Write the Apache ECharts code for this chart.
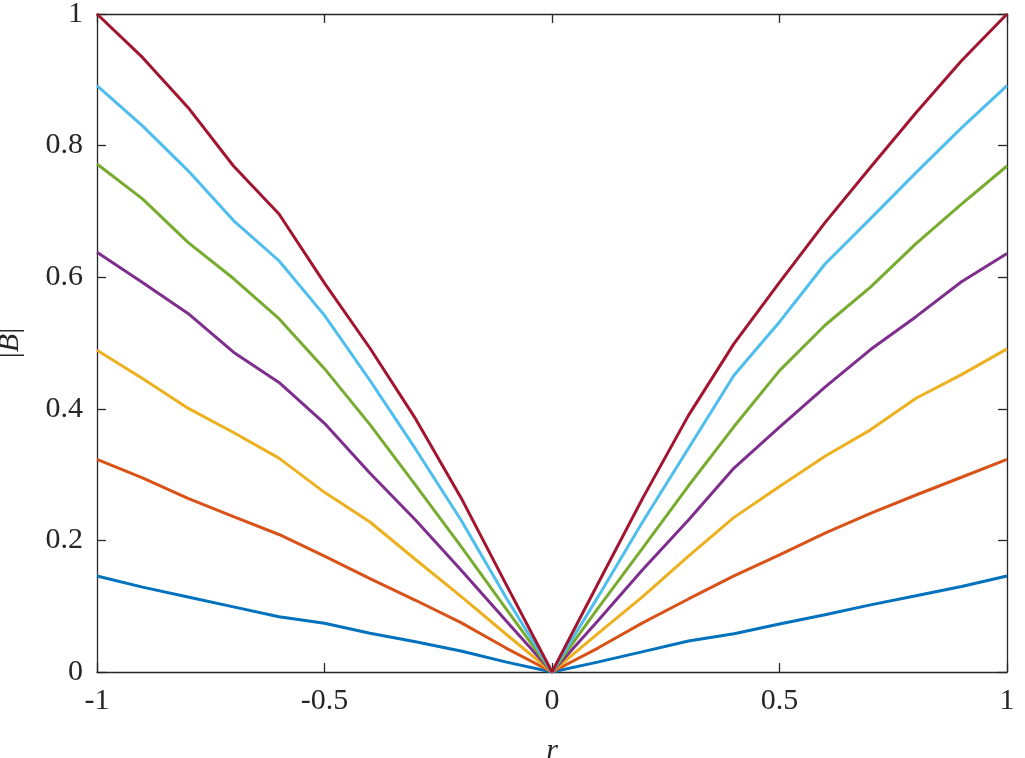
<!DOCTYPE html>
<html>
<head>
<meta charset="utf-8">
<script src="https://cdn.jsdelivr.net/npm/echarts@6/dist/echarts.min.js"></script>
<style>
html,body{margin:0;padding:0;background:#fff;}
#c{width:1025px;height:758px;}
</style>
</head>
<body>
<div id="c"></div>
<script>
const rValues = [-1,-0.9,-0.8,-0.7,-0.6,-0.5,-0.4,-0.3,-0.2,-0.1,0,0.1,0.2,0.3,0.4,0.5,0.6,0.7,0.8,0.9,1];
const xTickLabels = ['-1','-0.5','0','0.5','1'];
const yTickLabels = ['0','0.2','0.4','0.6','0.8','1'];

const blueSeries   = [0.146,0.129,0.114,0.099,0.084,0.074,0.059,0.046,0.032,0.015,0,0.015,0.031,0.047,0.058,0.073,0.087,0.102,0.116,0.130,0.146];
const orangeSeries = [0.323,0.295,0.264,0.236,0.209,0.176,0.142,0.109,0.075,0.036,0,0.036,0.075,0.111,0.146,0.178,0.211,0.241,0.269,0.296,0.323];
const yellowSeries = [0.489,0.446,0.401,0.364,0.325,0.273,0.228,0.171,0.115,0.057,0,0.058,0.115,0.176,0.235,0.282,0.328,0.368,0.416,0.452,0.491];
const purpleSeries = [0.638,0.592,0.545,0.486,0.440,0.378,0.302,0.231,0.155,0.077,0,0.077,0.156,0.231,0.310,0.372,0.433,0.490,0.540,0.593,0.636];
const greenSeries  = [0.772,0.719,0.653,0.598,0.537,0.461,0.376,0.284,0.191,0.095,0,0.096,0.189,0.283,0.373,0.458,0.527,0.585,0.651,0.711,0.769];
const cyanSeries   = [0.891,0.830,0.762,0.686,0.625,0.542,0.443,0.339,0.231,0.112,0,0.113,0.229,0.340,0.451,0.532,0.620,0.689,0.759,0.827,0.891];
const redSeries    = [1.000,0.934,0.858,0.769,0.696,0.591,0.492,0.385,0.265,0.132,0,0.133,0.265,0.390,0.499,0.592,0.683,0.767,0.850,0.929,1.000];

const seriesList = [
  {values: blueSeries,   color: '#0072BD'},
  {values: orangeSeries, color: '#D95319'},
  {values: yellowSeries, color: '#EDB120'},
  {values: purpleSeries, color: '#7E2F8E'},
  {values: greenSeries,  color: '#77AC30'},
  {values: cyanSeries,   color: '#4DBEEE'},
  {values: redSeries,    color: '#A2142F'}
];

const axisColor = '#262626';
const font = 'Liberation Serif';

function fmt(labels, min, step) {
  return function (v) {
    const i = Math.round((v - min) / step);
    return labels[i] !== undefined ? labels[i] : '';
  };
}

const chart = echarts.init(document.getElementById('c'), null, {renderer: 'canvas'});
chart.setOption({
  animation: false,
  backgroundColor: '#ffffff',
  grid: {left: 97, right: 18, top: 14, bottom: 86, containLabel: false, outerBoundsMode: 'none'},
  xAxis: [
    {
      type: 'value', min: -1, max: 1, interval: 0.5, position: 'bottom',
      axisLine: {show: true, onZero: false, lineStyle: {color: axisColor, width: 1.3}},
      axisTick: {show: true, inside: true, length: 9, lineStyle: {color: axisColor, width: 1.3}},
      axisLabel: {show: true, formatter: fmt(xTickLabels, -1, 0.5), color: axisColor, fontFamily: font, fontSize: 30, margin: 14},
      splitLine: {show: false},
      name: 'r', nameLocation: 'middle', nameGap: 64,
      nameTextStyle: {fontFamily: font, fontSize: 30, fontStyle: 'italic', color: axisColor}
    },
    {
      type: 'value', min: -1, max: 1, interval: 0.5, position: 'top',
      axisLine: {show: true, onZero: false, lineStyle: {color: axisColor, width: 1.3}},
      axisTick: {show: true, inside: true, length: 9, lineStyle: {color: axisColor, width: 1.3}},
      axisLabel: {show: false},
      splitLine: {show: false}
    }
  ],
  yAxis: [
    {
      type: 'value', min: 0, max: 1, interval: 0.2, position: 'left',
      axisLine: {show: true, onZero: false, lineStyle: {color: axisColor, width: 1.3}},
      axisTick: {show: true, inside: true, length: 9, lineStyle: {color: axisColor, width: 1.3}},
      axisLabel: {show: true, formatter: fmt(yTickLabels, 0, 0.2), color: axisColor, fontFamily: font, fontSize: 30, margin: 14},
      splitLine: {show: false},
      name: '{n||}{i|B}{n||}', nameLocation: 'middle', nameGap: 72, nameRotate: 90,
      nameTextStyle: {
        fontFamily: font, fontSize: 30, color: axisColor,
        rich: {
          n: {fontFamily: font, fontSize: 30, color: axisColor},
          i: {fontFamily: font, fontSize: 30, fontStyle: 'italic', color: axisColor}
        }
      }
    },
    {
      type: 'value', min: 0, max: 1, interval: 0.2, position: 'right',
      axisLine: {show: true, onZero: false, lineStyle: {color: axisColor, width: 1.3}},
      axisTick: {show: true, inside: true, length: 9, lineStyle: {color: axisColor, width: 1.3}},
      axisLabel: {show: false},
      splitLine: {show: false}
    }
  ],
  series: seriesList.map(function (s) {
    return {
      type: 'line',
      xAxisIndex: 0, yAxisIndex: 0,
      data: rValues.map(function (r, i) { return [r, s.values[i]]; }),
      showSymbol: false,
      symbol: 'none',
      lineStyle: {color: s.color, width: 3},
      itemStyle: {color: s.color},
      clip: true
    };
  })
});
</script>
</body>
</html>
